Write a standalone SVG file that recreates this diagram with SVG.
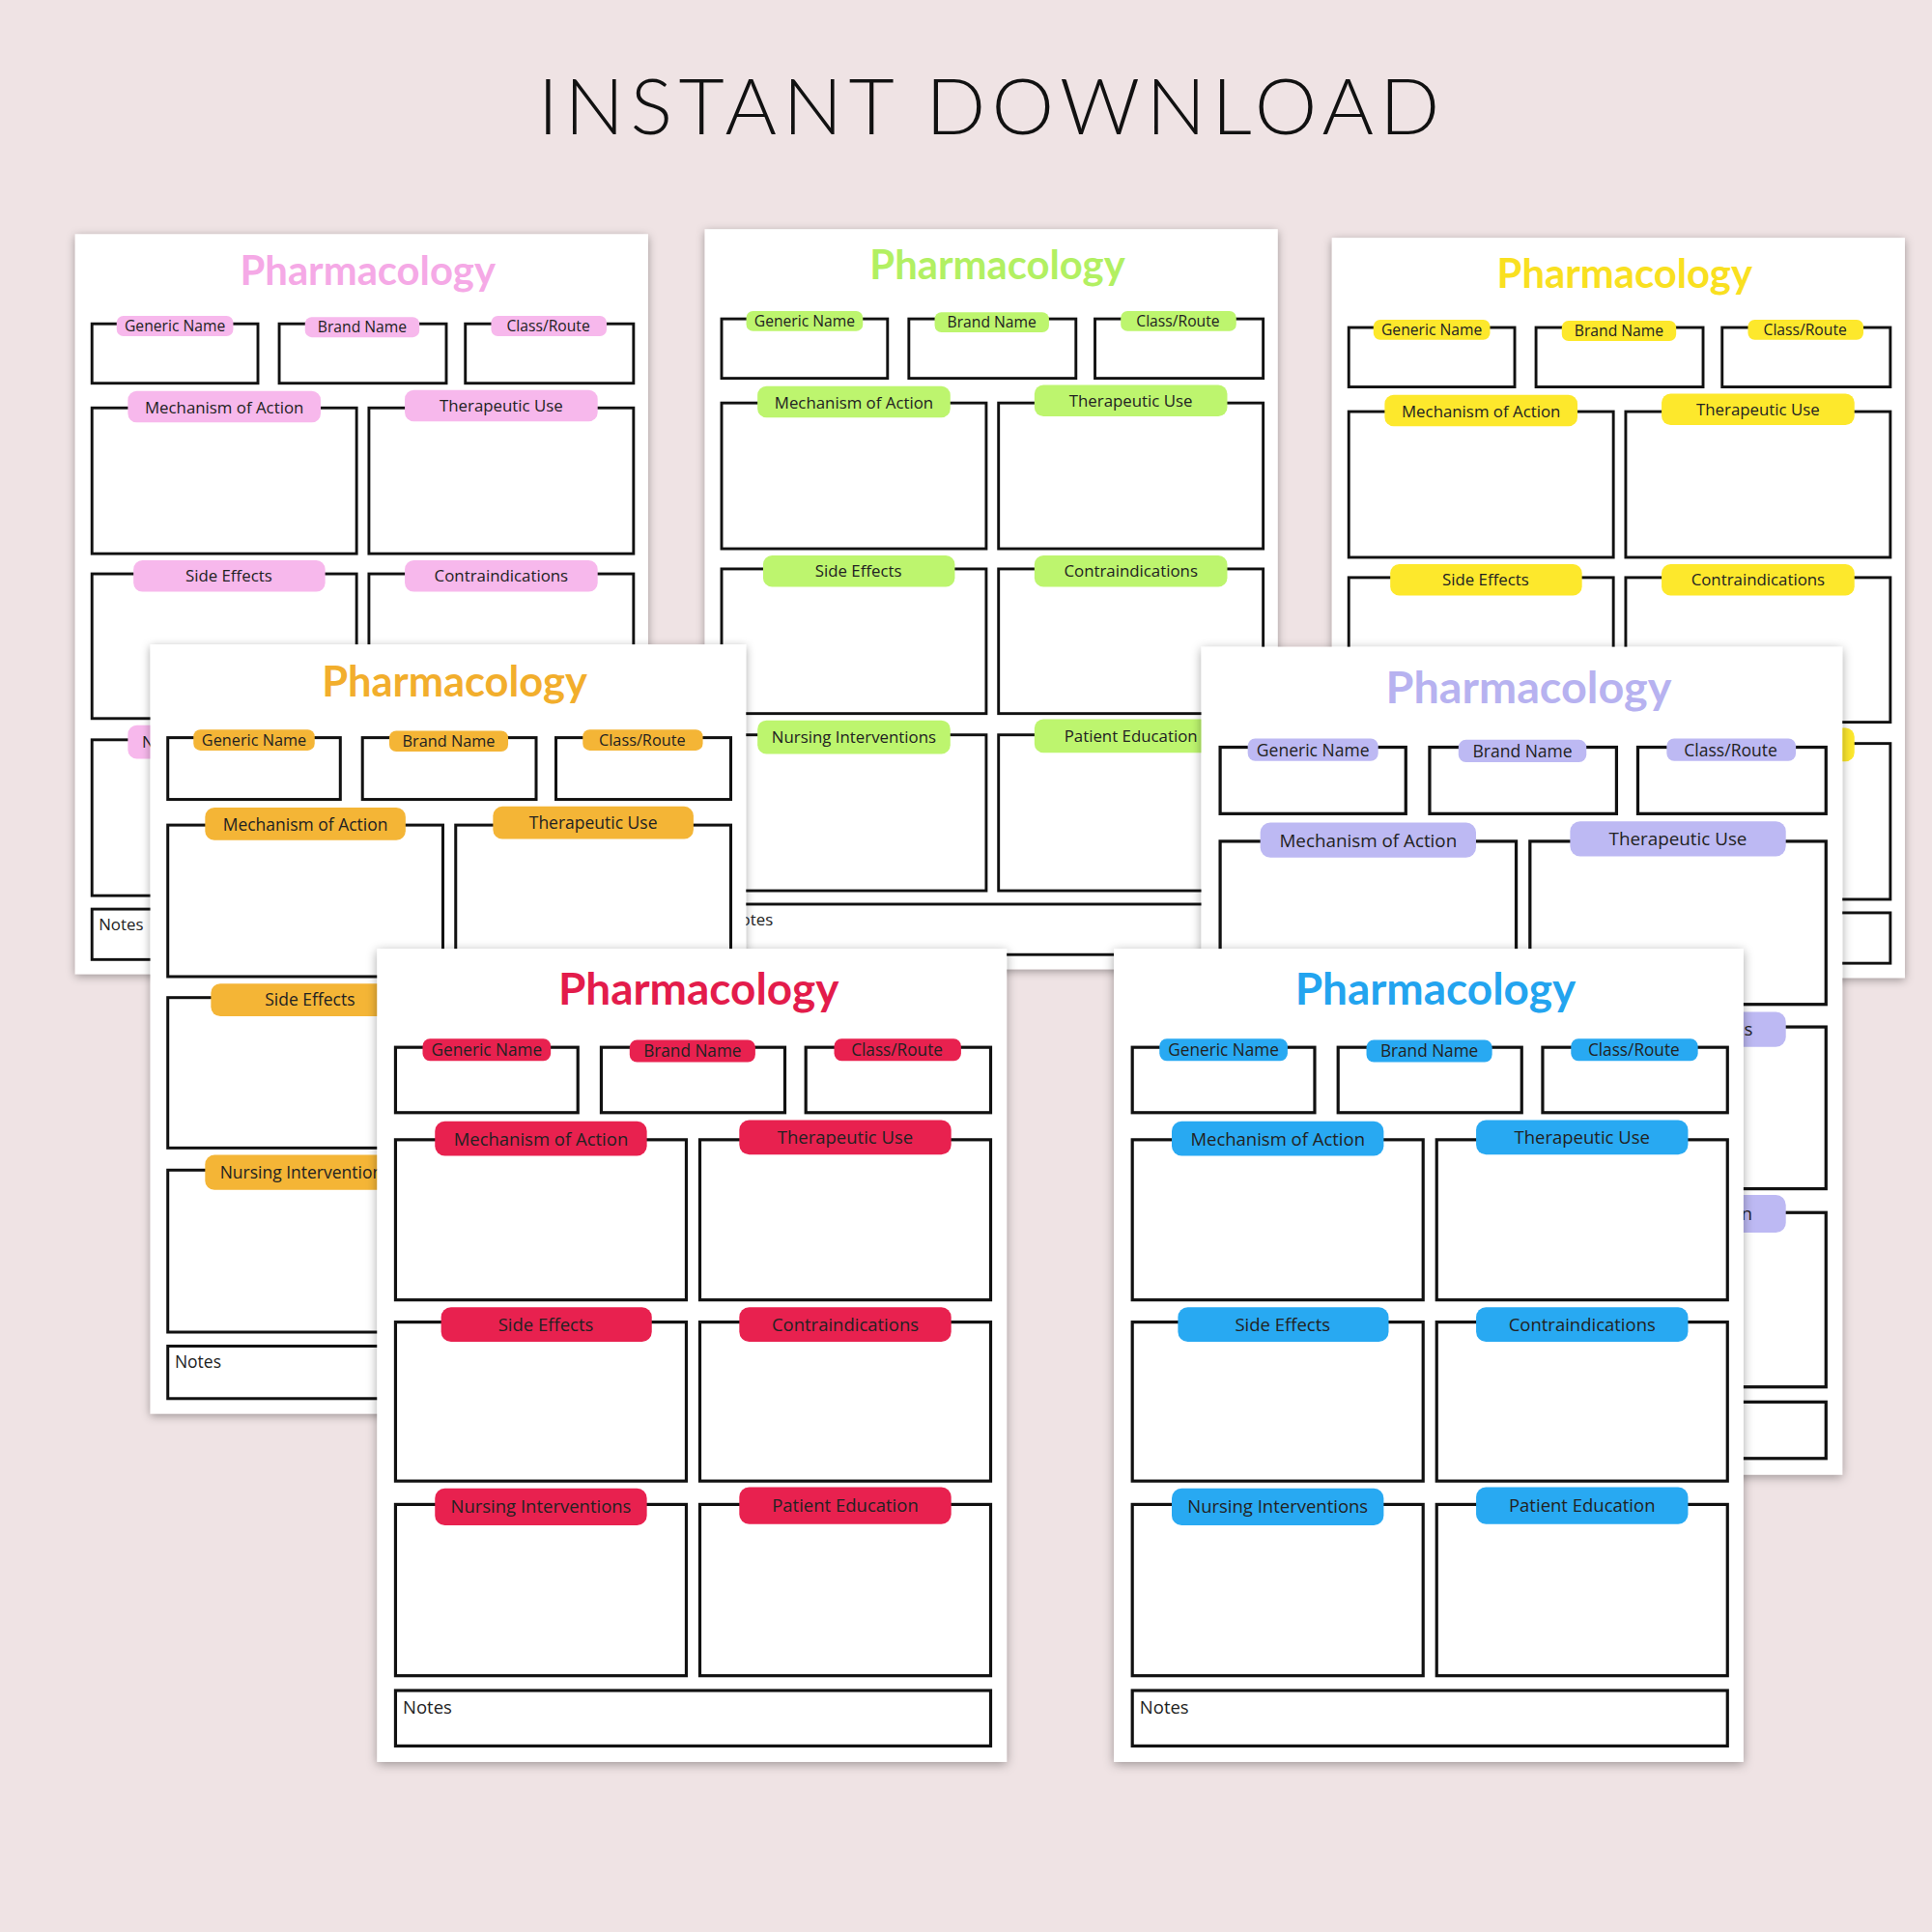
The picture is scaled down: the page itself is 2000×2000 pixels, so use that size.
<svg xmlns="http://www.w3.org/2000/svg" width="2000" height="2000" viewBox="0 0 2000 2000">
<defs>
<filter id="sh" x="-5%" y="-5%" width="110%" height="110%"><feDropShadow dx="0" dy="2" stdDeviation="4" flood-color="#000" flood-opacity="0.35"/></filter>
<style>
.pg{fill:#fff;filter:url(#sh)}
.bx{fill:none;stroke:#111;stroke-width:2.5}
.t{font-family:Lato,"Liberation Sans",sans-serif;font-weight:bold;font-size:36px;text-anchor:middle}
.l{font-family:"Open Sans","Liberation Sans",sans-serif;font-size:13.5px;fill:#222;text-anchor:middle}
.m{font-family:"Open Sans","Liberation Sans",sans-serif;font-size:14.5px;fill:#222;text-anchor:middle}
.n{font-family:"Open Sans","Liberation Sans",sans-serif;font-size:14.5px;fill:#222}
.pink{fill:#f7b8ec}.green{fill:#bdf56e}.yellow{fill:#fde82c}.orange{fill:#f4b536}.lav{fill:#bdb9f3}.red{fill:#e8214f}.blue{fill:#28a9f2}
.tpink{fill:#f5a9e6}.tgreen{fill:#b2f062}.tyellow{fill:#f9e020}.torange{fill:#f2ae2c}.tlav{fill:#b7b2f0}.tred{fill:#e31c4b}.tblue{fill:#23a4ef}
</style>
</defs>
<rect width="2000" height="2000" fill="#efe3e4"/>
<g transform="scale(1.27551)">
<text x="805" y="109" font-family="Lato,'Liberation Sans',sans-serif" font-weight="300" font-size="64" letter-spacing="5" text-anchor="middle" fill="#111">INSTANT DOWNLOAD</text>

<g id="page-pink" transform="translate(61,190) scale(0.91)">
<rect class="pg" width="511" height="660"/>
<text class="t tpink" x="261" y="45">Pharmacology</text>
<rect class="bx" x="15" y="80" width="148" height="53"/><rect class="bx" x="182" y="80" width="149" height="53"/><rect class="bx" x="348" y="80" width="150" height="53"/>
<rect class="bx" x="15" y="155" width="236" height="130"/><rect class="bx" x="262" y="155" width="236" height="130"/>
<rect class="bx" x="15" y="303" width="236" height="129"/><rect class="bx" x="262" y="303" width="236" height="129"/>
<rect class="bx" x="15" y="451" width="236" height="139"/><rect class="bx" x="262" y="451" width="236" height="139"/>
<rect class="bx" x="15" y="602" width="483" height="45"/>
<rect class="pink" x="37" y="73" width="104" height="18" rx="6"/><rect class="pink" x="205" y="74" width="102" height="18" rx="6"/><rect class="pink" x="371" y="73" width="103" height="18" rx="6"/>
<rect class="pink" x="47" y="140" width="172" height="28" rx="8"/><rect class="pink" x="294" y="139" width="172" height="28" rx="8"/>
<rect class="pink" x="52" y="291" width="171" height="28" rx="8"/><rect class="pink" x="294" y="291" width="172" height="28" rx="8"/>
<rect class="pink" x="47" y="438" width="172" height="30" rx="8"/><rect class="pink" x="294" y="437" width="172" height="30" rx="8"/>
<text class="l" x="89" y="87">Generic Name</text><text class="l" x="256" y="88">Brand Name</text><text class="l" x="422" y="87">Class/Route</text>
<text class="m" x="133" y="160">Mechanism of Action</text><text class="m" x="380" y="158">Therapeutic Use</text>
<text class="m" x="137" y="310">Side Effects</text><text class="m" x="380" y="310">Contraindications</text>
<text class="m" x="133" y="458">Nursing Interventions</text><text class="m" x="380" y="457">Patient Education</text>
<text class="n" x="21" y="621">Notes</text>
</g>

<g id="page-green" transform="translate(572,186) scale(0.91)">
<rect class="pg" width="511" height="660"/>
<text class="t tgreen" x="261" y="45">Pharmacology</text>
<rect class="bx" x="15" y="80" width="148" height="53"/><rect class="bx" x="182" y="80" width="149" height="53"/><rect class="bx" x="348" y="80" width="150" height="53"/>
<rect class="bx" x="15" y="155" width="236" height="130"/><rect class="bx" x="262" y="155" width="236" height="130"/>
<rect class="bx" x="15" y="303" width="236" height="129"/><rect class="bx" x="262" y="303" width="236" height="129"/>
<rect class="bx" x="15" y="451" width="236" height="139"/><rect class="bx" x="262" y="451" width="236" height="139"/>
<rect class="bx" x="15" y="602" width="483" height="45"/>
<rect class="green" x="37" y="73" width="104" height="18" rx="6"/><rect class="green" x="205" y="74" width="102" height="18" rx="6"/><rect class="green" x="371" y="73" width="103" height="18" rx="6"/>
<rect class="green" x="47" y="140" width="172" height="28" rx="8"/><rect class="green" x="294" y="139" width="172" height="28" rx="8"/>
<rect class="green" x="52" y="291" width="171" height="28" rx="8"/><rect class="green" x="294" y="291" width="172" height="28" rx="8"/>
<rect class="green" x="47" y="438" width="172" height="30" rx="8"/><rect class="green" x="294" y="437" width="172" height="30" rx="8"/>
<text class="l" x="89" y="87">Generic Name</text><text class="l" x="256" y="88">Brand Name</text><text class="l" x="422" y="87">Class/Route</text>
<text class="m" x="133" y="160">Mechanism of Action</text><text class="m" x="380" y="158">Therapeutic Use</text>
<text class="m" x="137" y="310">Side Effects</text><text class="m" x="380" y="310">Contraindications</text>
<text class="m" x="133" y="458">Nursing Interventions</text><text class="m" x="380" y="457">Patient Education</text>
<text class="n" x="21" y="621">Notes</text>
</g>

<g id="page-yellow" transform="translate(1081,193) scale(0.91)">
<rect class="pg" width="511" height="660"/>
<text class="t tyellow" x="261" y="45">Pharmacology</text>
<rect class="bx" x="15" y="80" width="148" height="53"/><rect class="bx" x="182" y="80" width="149" height="53"/><rect class="bx" x="348" y="80" width="150" height="53"/>
<rect class="bx" x="15" y="155" width="236" height="130"/><rect class="bx" x="262" y="155" width="236" height="130"/>
<rect class="bx" x="15" y="303" width="236" height="129"/><rect class="bx" x="262" y="303" width="236" height="129"/>
<rect class="bx" x="15" y="451" width="236" height="139"/><rect class="bx" x="262" y="451" width="236" height="139"/>
<rect class="bx" x="15" y="602" width="483" height="45"/>
<rect class="yellow" x="37" y="73" width="104" height="18" rx="6"/><rect class="yellow" x="205" y="74" width="102" height="18" rx="6"/><rect class="yellow" x="371" y="73" width="103" height="18" rx="6"/>
<rect class="yellow" x="47" y="140" width="172" height="28" rx="8"/><rect class="yellow" x="294" y="139" width="172" height="28" rx="8"/>
<rect class="yellow" x="52" y="291" width="171" height="28" rx="8"/><rect class="yellow" x="294" y="291" width="172" height="28" rx="8"/>
<rect class="yellow" x="47" y="438" width="172" height="30" rx="8"/><rect class="yellow" x="294" y="437" width="172" height="30" rx="8"/>
<text class="l" x="89" y="87">Generic Name</text><text class="l" x="256" y="88">Brand Name</text><text class="l" x="422" y="87">Class/Route</text>
<text class="m" x="133" y="160">Mechanism of Action</text><text class="m" x="380" y="158">Therapeutic Use</text>
<text class="m" x="137" y="310">Side Effects</text><text class="m" x="380" y="310">Contraindications</text>
<text class="m" x="133" y="458">Nursing Interventions</text><text class="m" x="380" y="457">Patient Education</text>
<text class="n" x="21" y="621">Notes</text>
</g>

<g id="page-orange" transform="translate(122,523) scale(0.946)">
<rect class="pg" width="511" height="660"/>
<text class="t torange" x="261" y="45">Pharmacology</text>
<rect class="bx" x="15" y="80" width="148" height="53"/><rect class="bx" x="182" y="80" width="149" height="53"/><rect class="bx" x="348" y="80" width="150" height="53"/>
<rect class="bx" x="15" y="155" width="236" height="130"/><rect class="bx" x="262" y="155" width="236" height="130"/>
<rect class="bx" x="15" y="303" width="236" height="129"/><rect class="bx" x="262" y="303" width="236" height="129"/>
<rect class="bx" x="15" y="451" width="236" height="139"/><rect class="bx" x="262" y="451" width="236" height="139"/>
<rect class="bx" x="15" y="602" width="483" height="45"/>
<rect class="orange" x="37" y="73" width="104" height="18" rx="6"/><rect class="orange" x="205" y="74" width="102" height="18" rx="6"/><rect class="orange" x="371" y="73" width="103" height="18" rx="6"/>
<rect class="orange" x="47" y="140" width="172" height="28" rx="8"/><rect class="orange" x="294" y="139" width="172" height="28" rx="8"/>
<rect class="orange" x="52" y="291" width="171" height="28" rx="8"/><rect class="orange" x="294" y="291" width="172" height="28" rx="8"/>
<rect class="orange" x="47" y="438" width="172" height="30" rx="8"/><rect class="orange" x="294" y="437" width="172" height="30" rx="8"/>
<text class="l" x="89" y="87">Generic Name</text><text class="l" x="256" y="88">Brand Name</text><text class="l" x="422" y="87">Class/Route</text>
<text class="m" x="133" y="160">Mechanism of Action</text><text class="m" x="380" y="158">Therapeutic Use</text>
<text class="m" x="137" y="310">Side Effects</text><text class="m" x="380" y="310">Contraindications</text>
<text class="m" x="133" y="458">Nursing Interventions</text><text class="m" x="380" y="457">Patient Education</text>
<text class="n" x="21" y="621">Notes</text>
</g>

<g id="page-lavender" transform="translate(975,525) scale(1.018)">
<rect class="pg" width="511" height="660"/>
<text class="t tlav" x="261" y="45">Pharmacology</text>
<rect class="bx" x="15" y="80" width="148" height="53"/><rect class="bx" x="182" y="80" width="149" height="53"/><rect class="bx" x="348" y="80" width="150" height="53"/>
<rect class="bx" x="15" y="155" width="236" height="130"/><rect class="bx" x="262" y="155" width="236" height="130"/>
<rect class="bx" x="15" y="303" width="236" height="129"/><rect class="bx" x="262" y="303" width="236" height="129"/>
<rect class="bx" x="15" y="451" width="236" height="139"/><rect class="bx" x="262" y="451" width="236" height="139"/>
<rect class="bx" x="15" y="602" width="483" height="45"/>
<rect class="lav" x="37" y="73" width="104" height="18" rx="6"/><rect class="lav" x="205" y="74" width="102" height="18" rx="6"/><rect class="lav" x="371" y="73" width="103" height="18" rx="6"/>
<rect class="lav" x="47" y="140" width="172" height="28" rx="8"/><rect class="lav" x="294" y="139" width="172" height="28" rx="8"/>
<rect class="lav" x="52" y="291" width="171" height="28" rx="8"/><rect class="lav" x="294" y="291" width="172" height="28" rx="8"/>
<rect class="lav" x="47" y="438" width="172" height="30" rx="8"/><rect class="lav" x="294" y="437" width="172" height="30" rx="8"/>
<text class="l" x="89" y="87">Generic Name</text><text class="l" x="256" y="88">Brand Name</text><text class="l" x="422" y="87">Class/Route</text>
<text class="m" x="133" y="160">Mechanism of Action</text><text class="m" x="380" y="158">Therapeutic Use</text>
<text class="m" x="137" y="310">Side Effects</text><text class="m" x="380" y="310">Contraindications</text>
<text class="m" x="133" y="458">Nursing Interventions</text><text class="m" x="380" y="457">Patient Education</text>
<text class="n" x="21" y="621">Notes</text>
</g>

<g id="page-red" transform="translate(306,770)">
<rect class="pg" width="511" height="660"/>
<text class="t tred" x="261" y="45">Pharmacology</text>
<rect class="bx" x="15" y="80" width="148" height="53"/><rect class="bx" x="182" y="80" width="149" height="53"/><rect class="bx" x="348" y="80" width="150" height="53"/>
<rect class="bx" x="15" y="155" width="236" height="130"/><rect class="bx" x="262" y="155" width="236" height="130"/>
<rect class="bx" x="15" y="303" width="236" height="129"/><rect class="bx" x="262" y="303" width="236" height="129"/>
<rect class="bx" x="15" y="451" width="236" height="139"/><rect class="bx" x="262" y="451" width="236" height="139"/>
<rect class="bx" x="15" y="602" width="483" height="45"/>
<rect class="red" x="37" y="73" width="104" height="18" rx="6"/><rect class="red" x="205" y="74" width="102" height="18" rx="6"/><rect class="red" x="371" y="73" width="103" height="18" rx="6"/>
<rect class="red" x="47" y="140" width="172" height="28" rx="8"/><rect class="red" x="294" y="139" width="172" height="28" rx="8"/>
<rect class="red" x="52" y="291" width="171" height="28" rx="8"/><rect class="red" x="294" y="291" width="172" height="28" rx="8"/>
<rect class="red" x="47" y="438" width="172" height="30" rx="8"/><rect class="red" x="294" y="437" width="172" height="30" rx="8"/>
<text class="l" x="89" y="87">Generic Name</text><text class="l" x="256" y="88">Brand Name</text><text class="l" x="422" y="87">Class/Route</text>
<text class="m" x="133" y="160">Mechanism of Action</text><text class="m" x="380" y="158">Therapeutic Use</text>
<text class="m" x="137" y="310">Side Effects</text><text class="m" x="380" y="310">Contraindications</text>
<text class="m" x="133" y="458">Nursing Interventions</text><text class="m" x="380" y="457">Patient Education</text>
<text class="n" x="21" y="621">Notes</text>
</g>

<g id="page-blue" transform="translate(904,770)">
<rect class="pg" width="511" height="660"/>
<text class="t tblue" x="261" y="45">Pharmacology</text>
<rect class="bx" x="15" y="80" width="148" height="53"/><rect class="bx" x="182" y="80" width="149" height="53"/><rect class="bx" x="348" y="80" width="150" height="53"/>
<rect class="bx" x="15" y="155" width="236" height="130"/><rect class="bx" x="262" y="155" width="236" height="130"/>
<rect class="bx" x="15" y="303" width="236" height="129"/><rect class="bx" x="262" y="303" width="236" height="129"/>
<rect class="bx" x="15" y="451" width="236" height="139"/><rect class="bx" x="262" y="451" width="236" height="139"/>
<rect class="bx" x="15" y="602" width="483" height="45"/>
<rect class="blue" x="37" y="73" width="104" height="18" rx="6"/><rect class="blue" x="205" y="74" width="102" height="18" rx="6"/><rect class="blue" x="371" y="73" width="103" height="18" rx="6"/>
<rect class="blue" x="47" y="140" width="172" height="28" rx="8"/><rect class="blue" x="294" y="139" width="172" height="28" rx="8"/>
<rect class="blue" x="52" y="291" width="171" height="28" rx="8"/><rect class="blue" x="294" y="291" width="172" height="28" rx="8"/>
<rect class="blue" x="47" y="438" width="172" height="30" rx="8"/><rect class="blue" x="294" y="437" width="172" height="30" rx="8"/>
<text class="l" x="89" y="87">Generic Name</text><text class="l" x="256" y="88">Brand Name</text><text class="l" x="422" y="87">Class/Route</text>
<text class="m" x="133" y="160">Mechanism of Action</text><text class="m" x="380" y="158">Therapeutic Use</text>
<text class="m" x="137" y="310">Side Effects</text><text class="m" x="380" y="310">Contraindications</text>
<text class="m" x="133" y="458">Nursing Interventions</text><text class="m" x="380" y="457">Patient Education</text>
<text class="n" x="21" y="621">Notes</text>
</g>
<g id="connectors"/>
</g>
</svg>
